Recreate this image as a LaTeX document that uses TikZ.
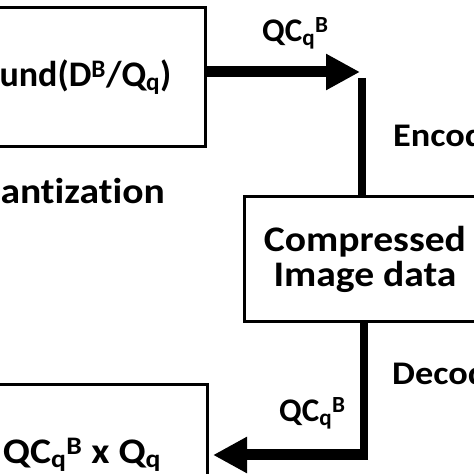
\documentclass[tikz,border=0pt]{standalone}
\usepackage{fontspec}
\setmainfont{Carlito}
\newfontfamily\widefont{Carlito}[FakeStretch=1.1, Ligatures=NoCommon]
\usetikzlibrary{arrows.meta}

\begin{document}
\begin{tikzpicture}[x=1pt,y=1pt,
    blk/.style={draw, line width=3pt, rectangle, inner sep=0pt, align=center,
        font=\fontsize{36}{35}\selectfont\bfseries},
    wideblk/.style={blk, font=\fontsize{36}{35}\selectfont\widefont\bfseries},
    lbl/.style={inner sep=0pt, font=\fontsize{33}{33}\selectfont\bfseries},
    widelbl/.style={lbl, font=\fontsize{33}{33}\selectfont\widefont\bfseries},
    flow/.style={line width=11pt, -{Triangle[length=34pt,width=34pt]}},
    wire/.style={line width=8pt}]
\useasboundingbox (0,0) rectangle (474,474);
% boxes
\node[blk, minimum width=278pt, minimum height=139pt] (quant) at (66,396.5)
    {Round(D\textsuperscript{B}/Q\textsubscript{q})};
\node[wideblk, minimum width=242pt, minimum height=125pt] (comp) at (365,214.5)
    {Compressed\\Image data};
\node[wideblk, minimum width=250pt, minimum height=140pt] (dequant) at (82,19)
    {QC\textsubscript{q}\textsuperscript{B} x Q\textsubscript{q}};
\node[widelbl, anchor=base east, font=\fontsize{36}{36}\selectfont\widefont\bfseries] (quantlbl) at (165,270) {Quantization};
% encoding side
\coordinate (enctip) at (360,402);
\coordinate (enctop) at (362,396);
\draw[flow] ([yshift=5.5pt]quant.east) -- (enctip);
\draw[wire] (enctop) -- (enctop |- comp.north);
\node[lbl, anchor=base west] (qcenc) at (262,432) {QC\textsubscript{q}\textsuperscript{B}};
\node[widelbl, anchor=base west] (enclbl) at (393,327) {Encoding};
% decoding side
\coordinate (deccorner) at (364,19);
\draw[wire] (comp.south -| deccorner) -- ([yshift=-5.5pt]deccorner);
\draw[flow, shorten >=4.5pt] ([xshift=4pt]deccorner) -- (dequant.east |- deccorner);
\node[lbl, anchor=base west] (qcdec) at (279,52) {QC\textsubscript{q}\textsuperscript{B}};
\node[widelbl, anchor=base west] (declbl) at (392,89) {Decoding};
\end{tikzpicture}
\end{document}
